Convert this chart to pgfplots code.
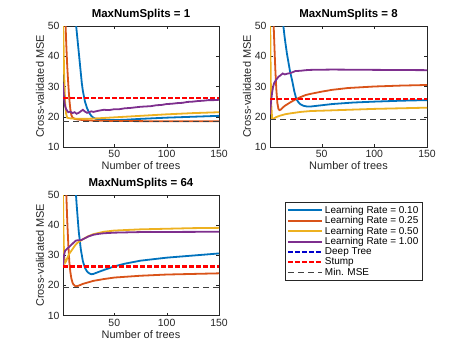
\documentclass[border=0pt]{standalone}
\usepackage{fontspec}
\setmainfont{Liberation Sans}
\usepackage{pgfplots}
\pgfplotsset{compat=1.18}
\definecolor{mb}{rgb}{0,0.447,0.741}
\definecolor{mo}{rgb}{0.85,0.325,0.098}
\definecolor{my}{rgb}{0.929,0.694,0.125}
\definecolor{mp}{rgb}{0.494,0.184,0.556}
\definecolor{ax}{rgb}{0.15,0.15,0.15}
\pgfplotsset{
  myax/.style={
    scale only axis, width=156bp, height=121bp,
    xmin=1, xmax=150, ymin=10, ymax=50,
    xtick={50,100,150}, ytick={10,20,30,40,50},
    tick align=inside, major tick length=3bp,
    xtick pos=both, ytick pos=both,
    axis line style={draw=ax}, tick style={draw=ax},
    /pgf/number format/assume math mode=true,
    tick label style={font=\fontsize{10.5}{12}\selectfont, text=ax},
    label style={font=\fontsize{11}{13}\selectfont, text=ax},
    title style={font=\bfseries\fontsize{11.5}{13}\selectfont, at={(0.5,1)}, anchor=base, inner sep=0bp, yshift=2.5bp},
    xlabel={Number of trees}, ylabel={Cross-validated MSE},
    xlabel style={yshift=3bp}, ylabel style={yshift=-3bp},
    lr/.style={line width=1.8bp},
    ref/.style={line width=2.2bp, dash pattern=on 5bp off 2bp},
    mse/.style={line width=0.7bp, color=black!75, dash pattern=on 6bp off 4bp},
  }
}
\begin{document}
\begin{tikzpicture}[x=1bp,y=1bp]
\useasboundingbox (0,0) rectangle (474,355);
% ---------- Plot 1 ----------
\begin{axis}[myax, at={(63bp,208bp)}, anchor=south west, title={MaxNumSplits = 1}]
\addplot[mb,lr] coordinates {(1,150) (5,100) (10,65) (13,52) (15,45) (17,38) (19,31) (20,28.5) (22,25) (24,22.8) (26,21.3) (28,20.3) (30,19.7) (33,19.2) (36,19.0) (40,18.9) (50,18.9) (60,19.0) (75,19.3) (100,19.7) (125,20.0) (150,20.3)};
\addplot[mo,lr] coordinates {(1,90) (3,55) (4,45) (5,37) (6,31) (7,26) (8,22.5) (9,20.5) (10,19.8) (12,19.3) (15,19.1) (20,18.9) (30,18.7) (50,18.6) (100,18.5) (150,18.5)};
\addplot[my,lr] coordinates {(1,55) (2,35) (3,25) (4,21) (5,19.7) (7,19.5) (10,19.4) (20,19.3) (30,19.4) (40,19.6) (50,19.8) (75,20.3) (100,20.8) (125,21.2) (150,21.5)};
\addplot[mp,lr] coordinates {(1,31) (2,26) (3,23.5) (4,22.5) (5,22) (6,21.5) (8,21.7) (10,21.2) (12,21.5) (14,21) (16,21.3) (18,21.8) (20,22.3) (22,21.7) (24,21.3) (26,21.5) (28,21.8) (30,21.6) (35,22.0) (40,22.3) (45,22.2) (50,22.5) (55,22.5) (60,22.8) (65,22.9) (70,23.1) (75,23.3) (80,23.4) (85,23.5) (90,23.8) (95,23.9) (100,24.2) (105,24.3) (110,24.5) (115,24.6) (120,24.9) (125,25.0) (130,25.2) (135,25.3) (140,25.5) (145,25.5) (150,25.6)};
\addplot[blue,ref] coordinates {(1,26.3) (150,26.3)};
\addplot[red,ref] coordinates {(1,26.3) (150,26.3)};
\addplot[mse] coordinates {(1,18.4) (150,18.4)};
\end{axis}
% ---------- Plot 2 ----------
\begin{axis}[myax, at={(270bp,208bp)}, anchor=south west, width=157bp, title={MaxNumSplits = 8}]
\addplot[mb,lr] coordinates {(1,200) (10,70) (13,52) (15,46) (17,41) (20,35) (22,32) (24,28.5) (26,25.8) (28,24.8) (30,24.1) (33,23.6) (36,23.4) (40,23.4) (50,23.8) (60,24.2) (80,24.7) (100,25.0) (125,25.3) (150,25.5)};
\addplot[mo,lr] coordinates {(1,100) (4,55) (5,45) (6,36) (7,29) (8,24.5) (9,22.6) (10,22.2) (11,22.3) (13,23) (15,23.6) (20,24.7) (25,25.7) (30,26.5) (35,27.2) (40,27.6) (50,28.3) (60,28.9) (75,29.5) (100,30.0) (125,30.3) (150,30.5)};
\addplot[my,lr] coordinates {(1,60) (1.5,40) (2,25) (3,19.5) (4,19.3) (5,19.5) (7,19.9) (10,20.3) (15,20.8) (20,21.1) (30,21.6) (40,21.9) (50,22.0) (75,22.3) (100,22.6) (125,22.8) (150,23.0)};
\addplot[mp,lr] coordinates {(1,20.8) (2,25) (3,28) (4,30) (5,31.2) (7,32.3) (9,33.2) (11,33.7) (13,34.3) (15,34.0) (18,34.3) (20,34.4) (23,34.8) (25,35.1) (30,35.2) (35,35.4) (40,35.5) (60,35.6) (100,35.5) (150,35.4)};
\addplot[blue,ref] coordinates {(1,26.0) (150,26.0)};
\addplot[red,ref] coordinates {(1,26.0) (150,26.0)};
\addplot[mse] coordinates {(1,19.2) (150,19.2)};
\end{axis}
% ---------- Plot 3 ----------
\begin{axis}[myax, at={(63bp,39.5bp)}, anchor=south west, height=120.5bp, title={MaxNumSplits = 64},
  legend style={at={(1.423,0.942)}, anchor=north west, font=\fontsize{10}{11}\selectfont, draw=ax, line width=0.6bp,
    inner sep=1.5bp, row sep=-2.2bp, cells={anchor=west}},
  legend image code/.code={\draw[#1] (0bp,0bp) -- (34bp,0bp);}]
\addplot[mb,lr] coordinates {(1,200) (10,70) (13,52) (14,47) (16,38) (18,32) (20,28) (22,25.8) (24,24.6) (26,24.0) (28,23.7) (30,23.8) (33,24.2) (36,24.6) (40,25.1) (50,26.3) (60,27.2) (75,28.2) (100,29.2) (125,29.9) (150,30.6)};
\addlegendentry{Learning Rate = 0.10}
\addplot[mo,lr] coordinates {(1,100) (4,52) (5,42) (6,34) (7,28) (8,24.5) (9,22.3) (10,21) (11,20.3) (13,19.7) (15,19.8) (18,20.2) (20,20.5) (25,21) (30,21.5) (40,22.1) (50,22.6) (75,23.2) (100,23.6) (125,23.8) (150,24.0)};
\addlegendentry{Learning Rate = 0.25}
\addplot[my,lr] coordinates {(1,50) (1.5,38) (2,30) (3,27.5) (4,28) (5,29) (7,30.5) (10,32) (13,33.5) (15,34.2) (20,35.3) (25,36.3) (30,37) (40,37.8) (50,38.2) (75,38.6) (100,38.8) (125,39) (150,39.1)};
\addlegendentry{Learning Rate = 0.50}
\addplot[mp,lr] coordinates {(1,26.5) (2,30) (3,31.5) (5,32.2) (7,32.8) (10,33.8) (13,34.8) (15,35.0) (18,35.0) (20,35.3) (25,36.2) (30,36.8) (35,37.1) (40,37.3) (50,37.5) (75,37.7) (150,37.8)};
\addlegendentry{Learning Rate = 1.00}
\addplot[blue!80!black,ref] coordinates {(1,26.3) (150,26.3)};
\addlegendentry{Deep Tree}
\addplot[red,ref] coordinates {(1,26.3) (150,26.3)};
\addlegendentry{Stump}
\addplot[mse] coordinates {(1,19.5) (150,19.5)};
\addlegendentry{Min. MSE}
\end{axis}
\end{tikzpicture}
\end{document}
